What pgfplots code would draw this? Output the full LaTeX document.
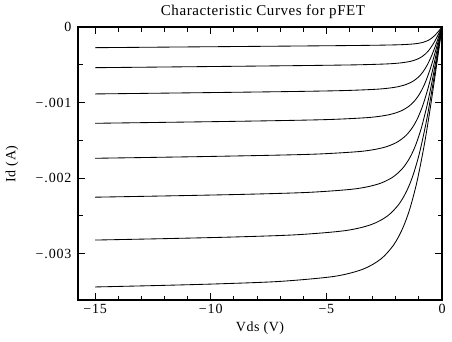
\documentclass[border=0pt]{standalone}
\usepackage{fontspec}
\setmainfont{Liberation Serif}
\usepackage{pgfplots}
\pgfplotsset{compat=1.18}
\begin{document}
\begin{tikzpicture}[x=1pt,y=1pt]
\useasboundingbox (0,0) rectangle (452,341);
\begin{axis}[
  at={(78pt,41pt)}, anchor=south west,
  scale only axis, width=364pt, height=273pt,
  xmin=-15.74, xmax=0, ymin=-3.616, ymax=0,
  xtick={-15,-10,-5,0}, xticklabels={−15,−10,−5,0},
  ytick={-3,-2,-1,0}, yticklabels={−.003,−.002,−.001,0},
  minor x tick num=4, minor y tick num=1,
  tick align=inside,
  major tick length=7pt, minor tick length=4.5pt,
  axis line style={line width=1.1pt},
  every tick/.style={black, line width=0.9pt},
  tick label style={font=\fontsize{14}{16}\selectfont\addfontfeature{LetterSpace=6}},
  yticklabel style={xshift=-3pt},
  xticklabel style={yshift=-1pt},
  crv/.style={black, line width=0.85pt, smooth, mark=none},
]
\addplot[crv] coordinates {(-15,-0.27396)(-12,-0.26642)(-9,-0.25887)(-6,-0.25116)(-4,-0.24557)(-2.79,-0.24126)(-1.86,-0.23522)(-1.364,-0.22773)(-1.054,-0.21765)(-0.837,-0.20439)(-0.682,-0.18881)(-0.558,-0.17045)(-0.434,-0.14496)(-0.31,-0.11116)(-0.217,-0.08067)(-0.124,-0.04703)(-0.062,-0.02364)(0,0)};
\addplot[crv] coordinates {(-15,-0.53887)(-12.5,-0.53129)(-10,-0.52363)(-7,-0.51412)(-5,-0.50698)(-3.555,-0.50008)(-2.37,-0.4888)(-1.738,-0.47386)(-1.343,-0.45328)(-1.0665,-0.42592)(-0.869,-0.39361)(-0.711,-0.35547)(-0.553,-0.30241)(-0.395,-0.23199)(-0.2765,-0.16841)(-0.158,-0.0982)(-0.079,-0.04936)(0,0)};
\addplot[crv] coordinates {(-15,-0.88665)(-12.5,-0.87771)(-10,-0.86858)(-8,-0.86091)(-6,-0.85227)(-4.185,-0.84142)(-2.79,-0.82353)(-2.046,-0.7989)(-1.581,-0.76455)(-1.2555,-0.71863)(-1.023,-0.66426)(-0.837,-0.60001)(-0.651,-0.51054)(-0.465,-0.39171)(-0.3255,-0.2844)(-0.186,-0.16585)(-0.093,-0.08337)(0,0)};
\addplot[crv] coordinates {(-15,-1.27534)(-12,-1.26285)(-9,-1.24967)(-6.5,-1.23678)(-4.725,-1.22366)(-3.15,-1.19841)(-2.31,-1.16301)(-1.785,-1.11323)(-1.4175,-1.04653)(-1.155,-0.96746)(-0.945,-0.87396)(-0.735,-0.7437)(-0.525,-0.57066)(-0.3675,-0.41435)(-0.21,-0.24165)(-0.105,-0.12148)(0,0)};
\addplot[crv] coordinates {(-15,-1.73883)(-12.5,-1.72694)(-10,-1.71436)(-7,-1.69637)(-5.22,-1.68056)(-3.48,-1.64668)(-2.552,-1.59845)(-1.972,-1.53028)(-1.566,-1.43877)(-1.276,-1.33017)(-1.044,-1.2017)(-0.812,-1.02265)(-0.58,-0.78476)(-0.406,-0.56984)(-0.232,-0.33235)(-0.116,-0.16708)(0,0)};
\addplot[crv] coordinates {(-15,-2.25413)(-12.5,-2.24054)(-10,-2.22587)(-8,-2.21207)(-5.715,-2.18947)(-3.81,-2.146)(-2.794,-2.08349)(-2.159,-1.99484)(-1.7145,-1.87567)(-1.397,-1.7342)(-1.143,-1.56676)(-0.889,-1.33339)(-0.635,-1.02324)(-0.4445,-0.74304)(-0.254,-0.43338)(-0.127,-0.21788)(0,0)};
\addplot[crv] coordinates {(-15,-2.82198)(-12,-2.80328)(-9,-2.78133)(-6.3,-2.75188)(-4.2,-2.69765)(-3.08,-2.61929)(-2.38,-2.50797)(-1.89,-2.35824)(-1.54,-2.18042)(-1.26,-1.96994)(-0.98,-1.67654)(-0.7,-1.28661)(-0.49,-0.9343)(-0.28,-0.54494)(-0.14,-0.27397)(0,0)};
\addplot[crv] coordinates {(-15,-3.44328)(-12,-3.42177)(-9.5,-3.40032)(-6.975,-3.36891)(-4.65,-3.30271)(-3.41,-3.20687)(-2.635,-3.07064)(-2.0925,-2.88736)(-1.705,-2.66966)(-1.395,-2.41197)(-1.085,-2.05275)(-0.775,-1.57533)(-0.5425,-1.14397)(-0.31,-0.66723)(-0.155,-0.33546)(0,0)};
\end{axis}
\node[font=\fontsize{15}{17}\selectfont\addfontfeature{LetterSpace=4}] at (263,329) {Characteristic Curves for pFET};
\node[font=\fontsize{14}{16}\selectfont\addfontfeature{LetterSpace=4}] at (260,13) {Vds (V)};
\node[font=\fontsize{14}{16}\selectfont\addfontfeature{LetterSpace=4}, rotate=90] at (12,177) {Id (A)};
\end{tikzpicture}
\end{document}
